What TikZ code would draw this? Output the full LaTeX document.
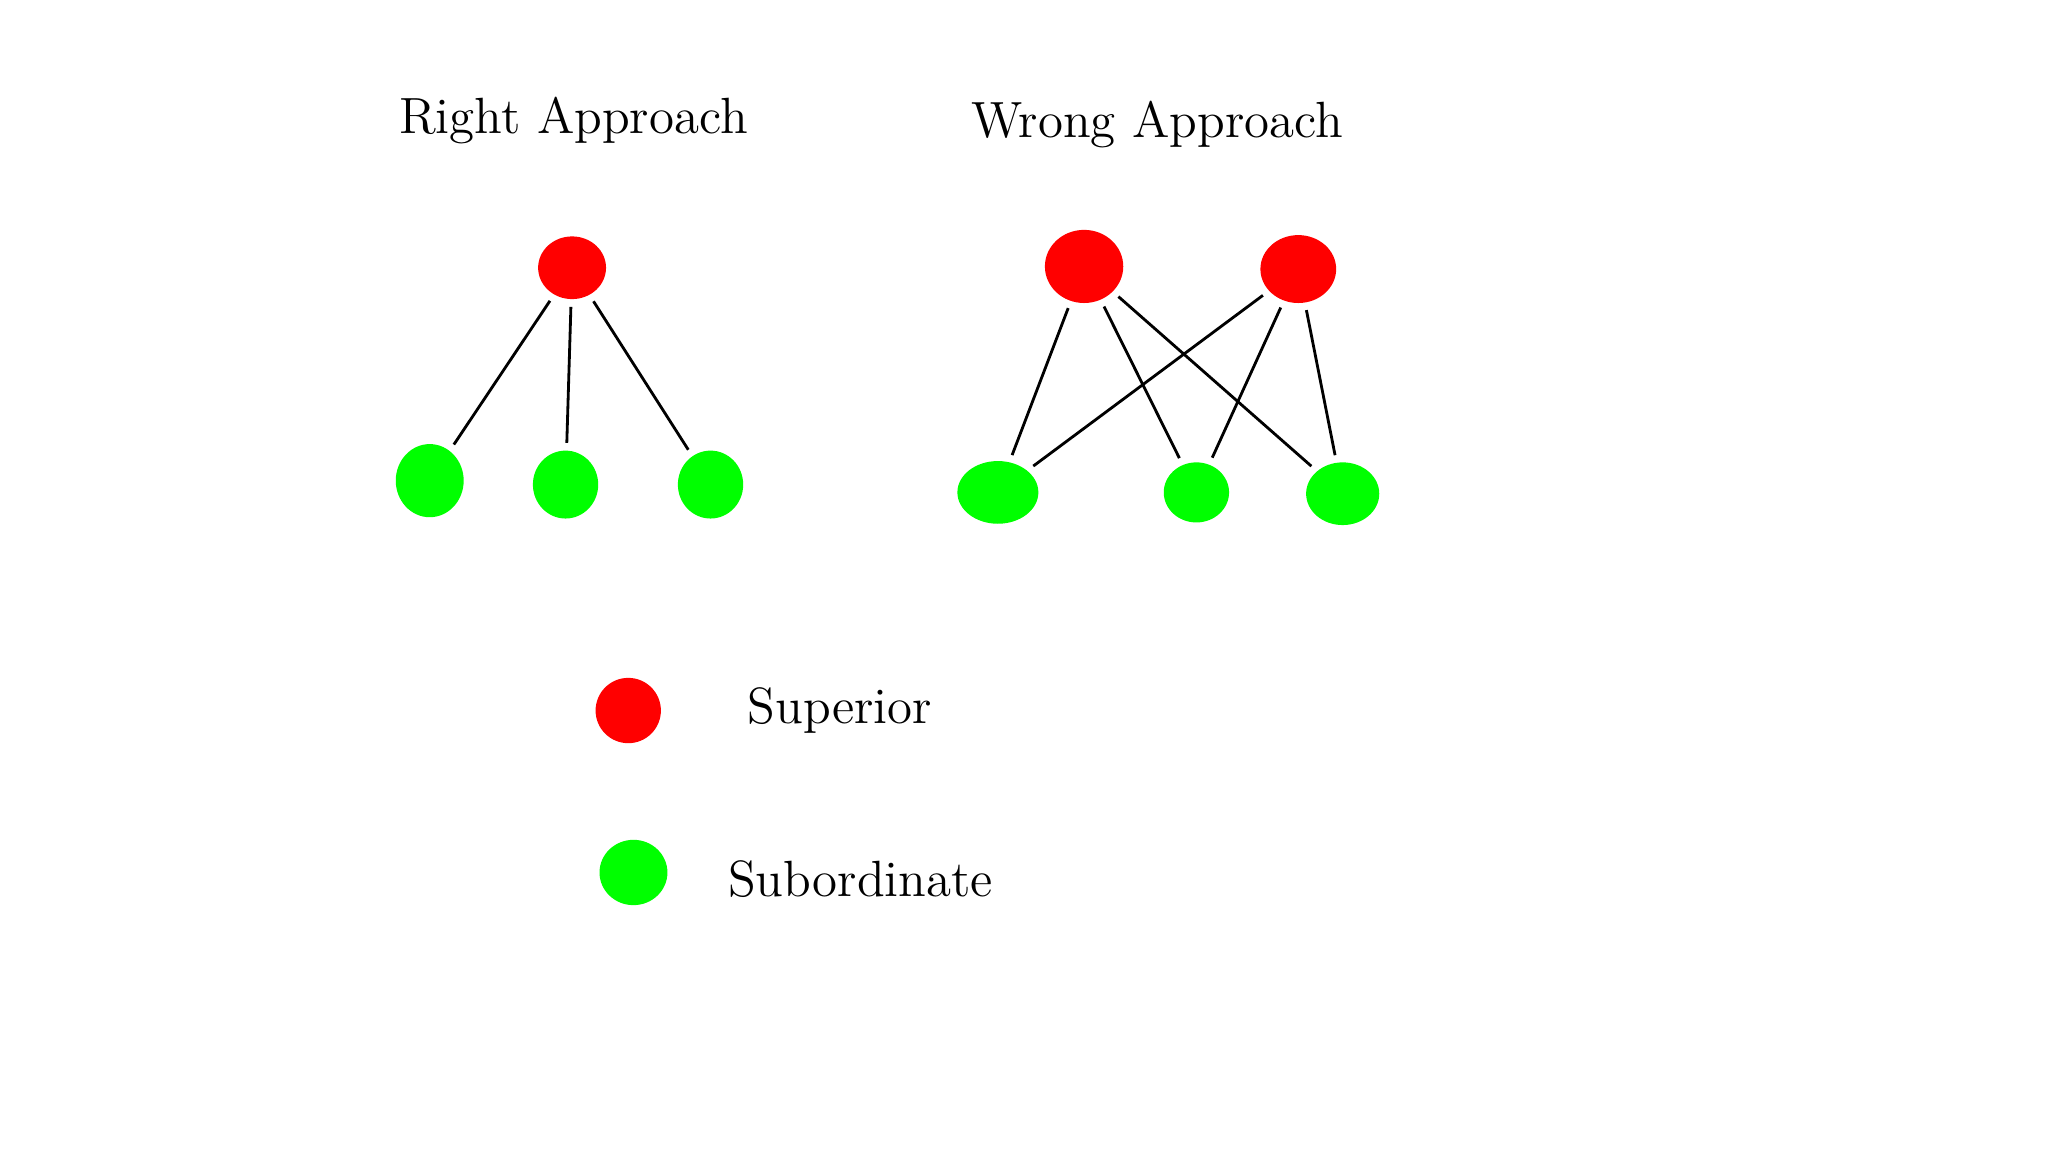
\documentclass[tikz,border=0pt]{standalone}
\usetikzlibrary{shapes.geometric}
\begin{document}
\begin{tikzpicture}[x=0.01306cm, y=-0.01306cm,
    boss/.style={ellipse, fill=red, inner sep=0pt},
    staff/.style={ellipse, fill=green, inner sep=0pt},
    sz/.style 2 args={minimum width=#1*0.01306cm, minimum height=#2*0.01306cm},
    title/.style={font=\fontsize{14.5}{18}\selectfont},
    link/.style={thick, black, shorten <=2pt, shorten >=2pt}
        ]

    \path [use as bounding box] (0,0) rectangle (1568,882);

    % right approach
    \node [title] (rtitle) at (439,92) {Right Approach};
    \node [boss, sz={52}{48}] (rS) at (438,205) {};
    \node [staff, sz={52}{56}] (rA) at (329,368) {};
    \node [staff, sz={50}{52}] (rB) at (433,371) {};
    \node [staff, sz={50}{52}] (rC) at (544,371) {};

    \draw [link] (rS) -- (rA);
    \draw [link] (rS) -- (rB);
    \draw [link] (rS) -- (rC);

    % wrong approach
    \node [title] (wtitle) at (886,95) {Wrong Approach};
    \node [boss, sz={60}{56}] (wS1) at (830,204) {};
    \node [boss, sz={58}{52}] (wS2) at (994,206) {};
    \node [staff, sz={62}{48}] (wA) at (764,377) {};
    \node [staff, sz={50}{46}] (wB) at (916,377) {};
    \node [staff, sz={56}{48}] (wC) at (1028,378) {};

    \draw [link] (wS1) -- (wA);
    \draw [link] (wS1) -- (wB);
    \draw [link] (wS1) -- (wC);
    \draw [link] (wS2) -- (wA);
    \draw [link] (wS2) -- (wB);
    \draw [link] (wS2) -- (wC);

    % legend
    \node [boss, sz={50}{50}] (lS) at (481,544) {};
    \node [title, anchor=west] (lSt) at (563,544) {Superior};
    \node [staff, sz={52}{50}] (lB) at (485,668) {};
    \node [title, anchor=west] (lBt) at (548,673) {Subordinate};

\end{tikzpicture}
\end{document}
